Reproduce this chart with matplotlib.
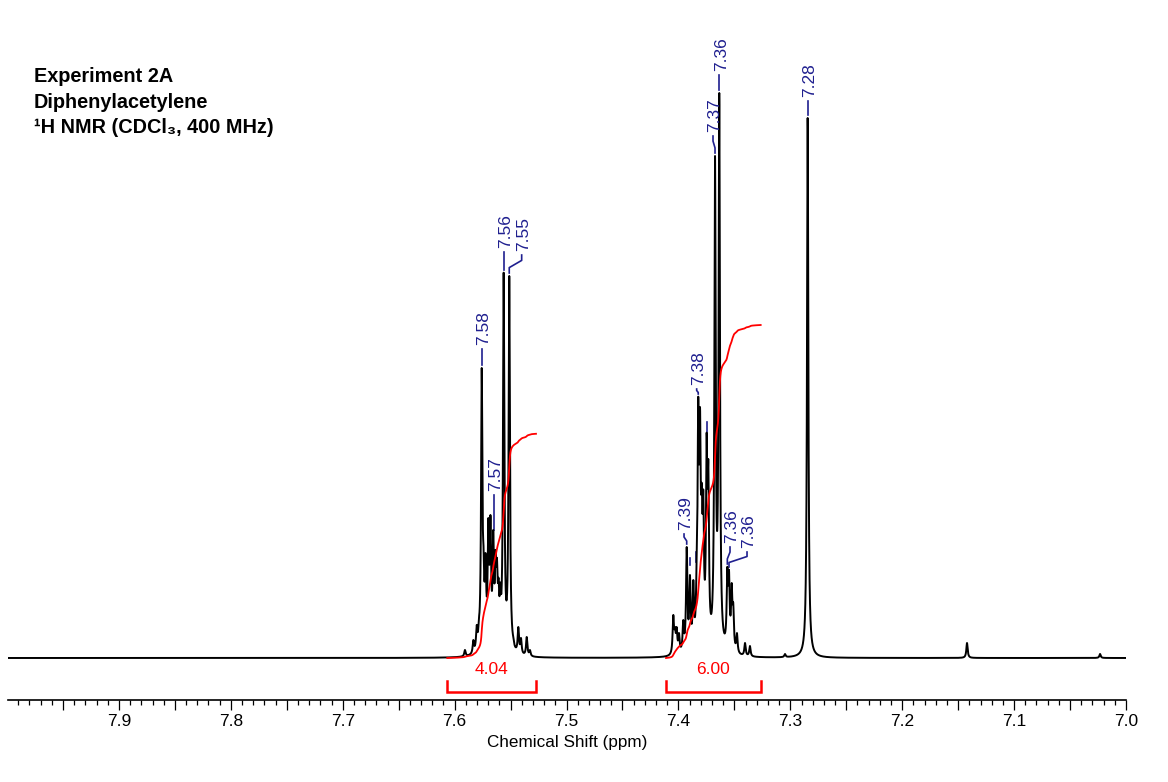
import numpy as np
import matplotlib.pyplot as plt
from matplotlib.ticker import MultipleLocator, FuncFormatter

plt.rcParams['font.family'] = ['Liberation Sans', 'DejaVu Sans']

# ---- peak list (ppm, height above baseline in px) ----
peak_ppm = np.array([
    7.5908, 7.5833, 7.5803, 7.5783, 7.5758, 7.5742, 7.5724, 7.5699, 7.5680,
    7.5655, 7.5635, 7.5622, 7.5608, 7.5592, 7.5580, 7.5562, 7.5512, 7.5476,
    7.5431, 7.5407, 7.5356, 7.5327,
    7.4046, 7.4031, 7.4016, 7.3995, 7.3957, 7.3926, 7.3897, 7.3867, 7.3837,
    7.3823, 7.3807, 7.3792, 7.3778, 7.3748, 7.3733, 7.3673, 7.3635, 7.3563,
    7.3548, 7.3524, 7.3510, 7.3477, 7.3405, 7.3361,
    7.3048, 7.2845, 7.1421, 7.0232,
])
peak_height = np.array([
    8, 18, 33, 40, 290, 112, 105, 140, 143,
    128, 108, 100, 80, 75, 68, 385, 382, 21,
    31, 20, 21, 8,
    43, 31, 31, 25, 38, 111, 83, 78, 101,
    261, 251, 175, 168, 225, 198, 502, 565, 91,
    88, 75, 55, 25, 15, 12,
    4, 540, 15, 4,
])

# ---- peak labels ----
label_text = ['7.58', '7.57', '7.56', '7.55', '7.39', '7.38', '7.37',
              '7.36', '7.36', '7.36', '7.28']
label_ppm = [7.5758, 7.5649, 7.5562, 7.5401, 7.3950, 7.3837, 7.3691,
             7.3635, 7.3539, 7.3387, 7.2845]
label_y = [313, 167, 410, 407, 128, 273, 526, 587, 115, 110, 561]
lead_ppm = [7.5758, 7.5649, 7.5562, 7.5512, 7.3926, 7.3823, 7.3673,
            7.3635, 7.3563, 7.3548, 7.2845]
lead_y = [290, 125, 385, 382, 111, 261, 502, 565, 91, 88, 540]

# short peak marks without a label (partly hidden behind the multiplet)
mark_ppm = [7.3897, 7.3840, 7.3748]
mark_lo = [93, 96, 226]
mark_hi = [100, 106, 236]

# ---- integrals ----
int_from = [7.6066, 7.4111]
int_to = [7.5273, 7.3265]
int_value = [4.04, 6.00]

BLUE = '#1f1f8f'
RED = '#ff0000'
HWHM = 0.0007
INT_SCALE = 55.5

ppm = np.linspace(8.0, 7.0, 20001)


def lorentz(x, x0):
    return 1.0 / (1.0 + ((x - x0) / HWHM) ** 2)


# amplitudes so that the summed lines hit the heights
M = lorentz(peak_ppm[:, None], peak_ppm[None, :])
amp = np.clip(np.linalg.solve(M, peak_height), 0, None)
spec = (amp[None, :] * lorentz(ppm[:, None], peak_ppm[None, :])).sum(axis=1)

fig = plt.figure(figsize=(11.68, 7.82), dpi=100)
ax = fig.add_axes([8.2 / 1168, 82 / 782, 1117.8 / 1168, 700 / 782])
ax.set_xlim(7.999, 7.0)
ax.set_ylim(-42, 658)

ax.plot(ppm, spec, color='black', lw=1.4, zorder=2)

# integral curves + brackets
for lo, hi, val in zip(int_to, int_from, int_value):
    m = (ppm <= hi) & (ppm >= lo)
    c = np.cumsum(spec[m])
    c = c / c[-1] * val * INT_SCALE
    ax.plot(ppm[m], c, color=RED, lw=1.3, zorder=3)
    ax.plot([hi, hi, lo, lo], [-23, -34, -34, -23], color=RED, lw=1.8,
            solid_joinstyle='miter', clip_on=False)
    ax.text((hi + lo) / 2, -12, f'{val:.2f}', color=RED, fontsize=12.5,
            ha='center', va='center')

# peak labels with leader lines
for txt, lx, ly, px, py in zip(label_text, label_ppm, label_y, lead_ppm, lead_y):
    top = ly - 4
    bot = py + 3
    d = top - bot
    if abs(lx - px) < 1e-6:
        xs, ys = [lx, lx], [top, bot]
    else:
        xs = [lx, lx, px, px]
        ys = [top, top - 0.3 * d, bot + 0.3 * d, bot]
    ax.plot(xs, ys, color=BLUE, lw=1.2, zorder=1)
    ax.text(lx - 0.0018, ly, txt, rotation=90, color=BLUE, fontsize=12.5,
            ha='center', va='bottom')

for mx, lo, hi in zip(mark_ppm, mark_lo, mark_hi):
    ax.plot([mx, mx], [lo, hi], color=BLUE, lw=1.2, zorder=1)

# axis styling
for s in ['left', 'right', 'top']:
    ax.spines[s].set_visible(False)
ax.spines['bottom'].set_linewidth(1.2)
ax.set_yticks([])
ax.xaxis.set_major_locator(MultipleLocator(0.05))
ax.xaxis.set_minor_locator(MultipleLocator(0.01))
ax.xaxis.set_major_formatter(FuncFormatter(
    lambda v, pos: f'{v:.1f}' if abs(v * 10 - round(v * 10)) < 1e-6 else ''))
ax.tick_params(axis='x', which='major', direction='out', length=7.2,
               width=0.9, labelsize=12.5, pad=3)
ax.tick_params(axis='x', which='minor', direction='out', length=3.6, width=0.9)

fig.text(567 / 1168, 1 - 743 / 782, 'Chemical Shift (ppm)', fontsize=12.3,
         ha='center', va='center')

title_lines = ['Experiment 2A', 'Diphenylacetylene', '¹H NMR (CDCl₃, 400 MHz)']
for i, line in enumerate(title_lines):
    fig.text(34 / 1168, 1 - (82.3 + 25.5 * i) / 782, line, fontsize=14.3,
             fontweight='bold', ha='left', va='baseline')

fig.savefig('out.png', dpi=100)
